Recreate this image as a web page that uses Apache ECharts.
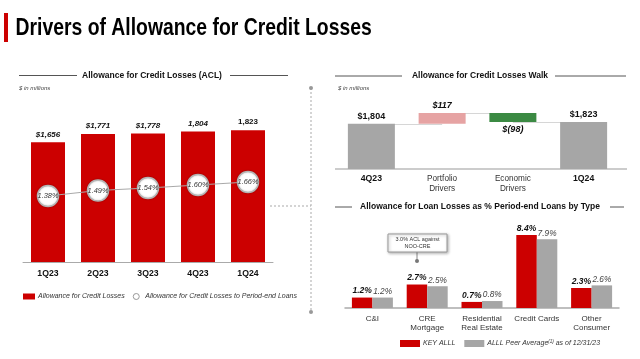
<!DOCTYPE html>
<html>
<head>
<meta charset="utf-8">
<script src="https://cdn.jsdelivr.net/npm/echarts@6/dist/echarts.min.js"></script>
<style>html,body{margin:0;padding:0;background:#fff;}#c{width:640px;height:359px;}</style>
</head>
<body>
<div id="c"></div>
<script>
// ---- Data ----
const aclQuarters = ['1Q23', '2Q23', '3Q23', '4Q23', '1Q24'];
const aclValues = [1656, 1771, 1778, 1804, 1823];
const aclLabels = ['$1,656', '$1,771', '$1,778', '1,804', '1,823'];
const aclRatio = [1.38, 1.49, 1.54, 1.60, 1.66];

const walkCategories = ['4Q23', 'Portfolio\nDrivers', 'Economic\nDrivers', '1Q24'];
const walkValues = [1804, 117, -98, 1823];
const walkLabels = ['$1,804', '$117', '$(98)', '$1,823'];

const loanTypes = ['C&I', 'CRE\nMortgage', 'Residential\nReal Estate', 'Credit Cards', 'Other\nConsumer'];
const keyAlll = [1.2, 2.7, 0.7, 8.4, 2.3];
const peerAlll = [1.2, 2.5, 0.8, 7.9, 2.6];

const RED = '#cc0000', GRAY = '#a6a6a6', PINK = '#e6a3a3', GREEN = '#3b8a43';
const FF = 'Liberation Sans, Arial, sans-serif';

// waterfall helpers (derived from walkValues)
const walkBase = [], walkBar = [], walkColors = [];
let running = 0;
walkValues.forEach((v, i) => {
  if (i === 0 || i === walkValues.length - 1) {
    walkBase.push('-'); walkBar.push(v); walkColors.push(GRAY); running = v;
  } else {
    const lo = v >= 0 ? running : running + v;
    walkBase.push(lo); walkBar.push(Math.abs(v)); walkColors.push(v >= 0 ? PINK : GREEN);
    running += v;
  }
});
const walkTotals = [walkValues[0]];
for (let i = 1; i < walkValues.length - 1; i++) walkTotals.push(walkTotals[i - 1] + walkValues[i]);

const chart = echarts.init(document.getElementById('c'), null, {renderer: 'canvas'});

function header(text, cx, y, l1, l2, r1, r2) {
  return [
    {type: 'text', x: cx, y: y, style: {text: text, font: 'bold 8.5px ' + FF, fill: '#111', textAlign: 'center', textVerticalAlign: 'middle'}, z: 10},
    {type: 'line', shape: {x1: l1, y1: y, x2: l2, y2: y}, style: {stroke: '#555', lineWidth: 1}},
    {type: 'line', shape: {x1: r1, y1: y, x2: r2, y2: y}, style: {stroke: '#555', lineWidth: 1}}
  ];
}

const graphics = [
  {type: 'rect', shape: {x: 4, y: 13, width: 4, height: 29}, style: {fill: RED}},
  {type: 'text', x: 13, y: 28, scaleX: 0.807, originX: 13, style: {text: 'Drivers of Allowance for Credit Losses', font: 'bold 24px ' + FF, fill: '#000', textVerticalAlign: 'middle'}},
  {type: 'text', x: 19, y: 88, style: {text: '$ in millions', font: 'italic 6px ' + FF, fill: '#444', textVerticalAlign: 'middle'}},
  {type: 'text', x: 338, y: 88, style: {text: '$ in millions', font: 'italic 6px ' + FF, fill: '#444', textVerticalAlign: 'middle'}},
  // dashed connector
  {type: 'line', shape: {x1: 311, y1: 88, x2: 311, y2: 312}, style: {stroke: '#aaa', lineWidth: 1, lineDash: [2, 2]}},
  {type: 'line', shape: {x1: 270, y1: 206, x2: 311, y2: 206}, style: {stroke: '#aaa', lineWidth: 1, lineDash: [2, 2]}},
  {type: 'circle', shape: {cx: 311, cy: 88, r: 2}, style: {fill: '#999'}},
  {type: 'circle', shape: {cx: 311, cy: 312, r: 2}, style: {fill: '#999'}},
  // waterfall axis line
  {type: 'line', shape: {x1: 335, y1: 169, x2: 627, y2: 169}, style: {stroke: '#999', lineWidth: 1}},
  // callout
  {type: 'line', shape: {x1: 417, y1: 252, x2: 417, y2: 261}, style: {stroke: '#888', lineWidth: 1}},
  {type: 'circle', shape: {cx: 417, cy: 261, r: 2}, style: {fill: '#777'}},
  {type: 'rect', shape: {x: 388, y: 234, width: 59, height: 18}, style: {fill: '#fff', stroke: '#999', lineWidth: 1, shadowBlur: 3, shadowColor: 'rgba(0,0,0,0.3)', shadowOffsetX: 1, shadowOffsetY: 1}, z: 5},
  {type: 'text', x: 417.5, y: 243, z: 6, style: {text: '3.0% ACL against\nNOO-CRE', font: '5.5px ' + FF, fill: '#333', textAlign: 'center', textVerticalAlign: 'middle', lineHeight: 7}}
].concat(
  header('Allowance for Credit Losses (ACL)', 152, 75.5, 19, 77, 230, 288),
  header('Allowance for Credit Losses Walk', 480, 76, 335, 402, 555, 626),
  header('Allowance for Loan Losses as % Period-end Loans by Type', 480, 207, 335, 352, 610, 624)
);

const option = {
  animation: false,
  backgroundColor: '#fff',
  textStyle: {fontFamily: FF},
  graphic: graphics,
  grid: [
    {left: 23, width: 250, top: 103, height: 159},
    {left: 336, width: 283, top: 100, height: 69},
    {left: 345, width: 274, top: 221, height: 87}
  ],
  xAxis: [
    {gridIndex: 0, type: 'category', data: aclQuarters, axisTick: {show: false},
     axisLine: {lineStyle: {color: '#aaa', width: 1}},
     axisLabel: {fontWeight: 'bold', fontSize: 8.7, color: '#111', margin: 7}},
    {gridIndex: 1, type: 'category', data: walkCategories, axisTick: {show: false}, axisLine: {show: false},
     axisLabel: {interval: 0, margin: 5, lineHeight: 9.5, formatter: (v, i) => (i === 0 || i === walkCategories.length - 1) ? '{b|' + v + '}' : '{n|' + v + '}',
       rich: {b: {fontWeight: 'bold', fontSize: 8.7, color: '#111', lineHeight: 9.5}, n: {fontSize: 8.2, color: '#333', lineHeight: 9.5}}}},
    {gridIndex: 2, type: 'category', data: loanTypes, axisTick: {show: false},
     axisLine: {lineStyle: {color: '#aaa', width: 1.5}},
     axisLabel: {fontSize: 8, color: '#333', margin: 6, lineHeight: 9.5, interval: 0}}
  ],
  yAxis: [
    {gridIndex: 0, type: 'value', min: 0, max: 2200, show: false, splitLine: {show: false}},
    {gridIndex: 0, type: 'value', min: 0.06, max: 3.24, show: false, splitLine: {show: false}},
    {gridIndex: 1, type: 'value', min: 1320, max: 2060, show: false, splitLine: {show: false}},
    {gridIndex: 2, type: 'value', min: 0, max: 10, show: false, splitLine: {show: false}}
  ],
  legend: [
    {left: 23, top: 293, itemWidth: 12, itemHeight: 6, itemGap: 8, padding: 0,
     textStyle: {fontStyle: 'italic', fontSize: 7, color: '#333', padding: [0, 0, 0, -2]},
     data: [
       {name: 'Allowance for Credit Losses', icon: 'rect'},
       {name: 'Allowance for Credit Losses to Period-end Loans', icon: 'circle', itemStyle: {color: '#fff', borderColor: '#999', borderWidth: 1}}
     ]},
    {left: 400, top: 339, itemWidth: 20, itemHeight: 7, itemGap: 9, padding: 0,
     textStyle: {fontStyle: 'italic', fontSize: 7, color: '#333', padding: [0, 0, 0, -2],
       rich: {sup: {fontSize: 4.5, fontStyle: 'italic', color: '#333', verticalAlign: 'top', padding: [0, 0, 4, 0]}}},
     formatter: n => n.indexOf('Peer') >= 0 ? 'ALLL Peer Average{sup|(1)} as of 12/31/23' : n,
     data: [{name: 'KEY ALLL', icon: 'rect'}, {name: 'ALLL Peer Average(1) as of 12/31/23', icon: 'rect'}]}
  ],
  series: [
    {name: 'Allowance for Credit Losses', type: 'bar', xAxisIndex: 0, yAxisIndex: 0, barWidth: 34,
     data: aclValues.map((v, i) => ({value: v, label: {fontStyle: i === aclValues.length - 1 ? 'normal' : 'italic'}})),
     itemStyle: {color: RED},
     label: {show: true, position: 'top', distance: 4, color: '#111', fontSize: 8, fontWeight: 'bold',
       formatter: p => aclLabels[p.dataIndex]}},
    {name: 'Allowance for Credit Losses to Period-end Loans', type: 'line', xAxisIndex: 0, yAxisIndex: 1, data: aclRatio, z: 5,
     lineStyle: {color: '#aaa', width: 1.2}, symbol: 'circle', symbolSize: 21,
     itemStyle: {color: '#fff', borderColor: '#b5b5b5', borderWidth: 1.5, shadowBlur: 2, shadowColor: 'rgba(0,0,0,0.25)'},
     label: {show: true, position: 'inside', formatter: p => p.value.toFixed(2) + '%', fontSize: 7.4, fontStyle: 'italic', color: '#333'}},
    // waterfall
    {name: 'base', type: 'bar', xAxisIndex: 1, yAxisIndex: 2, stack: 'w', data: walkBase, barWidth: 47,
     itemStyle: {color: 'transparent'}, silent: true, z: 0,
     markLine: {symbol: 'none', silent: true, z: 0, label: {show: false}, lineStyle: {color: '#d6d6d6', width: 1, type: 'solid'},
       data: walkTotals.map((t, i) => [{coord: [i, t]}, {coord: [i + 1, t]}])}},
    {name: 'walk', type: 'bar', xAxisIndex: 1, yAxisIndex: 2, stack: 'w', z: 4,
     data: walkBar.map((v, i) => ({value: v, itemStyle: {color: walkColors[i]},
       label: {position: walkValues[i] < 0 ? 'bottom' : 'top', fontStyle: (i === 0 || i === walkValues.length - 1) ? 'normal' : 'italic'}})),
     label: {show: true, fontSize: 9, fontWeight: 'bold', color: '#111', distance: 3, formatter: p => walkLabels[p.dataIndex]}},
    // loan %
    {name: 'KEY ALLL', type: 'bar', xAxisIndex: 2, yAxisIndex: 3, data: keyAlll, barWidth: 20.5, barGap: '0%',
     itemStyle: {color: RED},
     label: {show: true, position: 'top', distance: 2, formatter: p => p.value.toFixed(1) + '%', fontSize: 8.5, fontWeight: 'bold', fontStyle: 'italic', color: '#111'}},
    {name: 'ALLL Peer Average(1) as of 12/31/23', type: 'bar', xAxisIndex: 2, yAxisIndex: 3, data: peerAlll, barWidth: 20.5, barGap: '0%',
     itemStyle: {color: GRAY},
     label: {show: true, position: 'top', distance: 2, formatter: p => p.value.toFixed(1) + '%', fontSize: 8.3, fontStyle: 'italic', color: '#444'}}
  ]
};
chart.setOption(option);
</script>
</body>
</html>
